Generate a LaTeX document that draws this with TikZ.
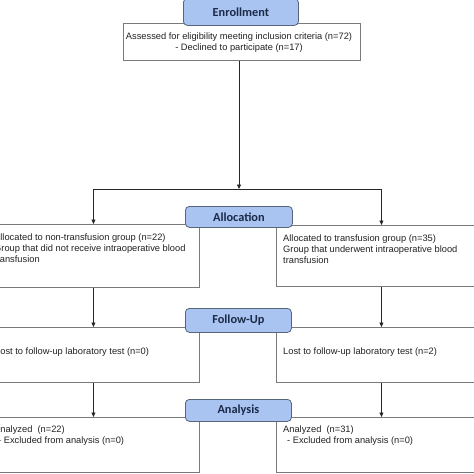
\documentclass[tikz,border=0pt]{standalone}
\usepackage{fontspec}
\setmainfont{Liberation Sans}
\newfontfamily\headfont{Carlito}
\usetikzlibrary{arrows.meta}
\definecolor{hdrfill}{HTML}{A9C4F0}
\definecolor{hdrdraw}{HTML}{56657A}
\definecolor{hdrtext}{HTML}{1B2A48}
\definecolor{boxdraw}{HTML}{7A7A7A}
\definecolor{txtcol}{HTML}{222222}
\begin{document}
\begin{tikzpicture}[x=1pt,y=-1pt,
  box/.style={draw=boxdraw, line width=0.9pt, anchor=north west, inner sep=0pt, fill=white},
  hdr/.style={draw=hdrdraw, fill=hdrfill, line width=0.8pt, rounded corners=4pt,
    inner sep=0pt, text=hdrtext, font=\headfont\bfseries\fontsize{12.3}{14}\selectfont},
  body/.style={inner sep=0pt, text=txtcol, font=\fontsize{9.3}{11}\selectfont},
  arr/.style={draw=black!85, line width=0.8pt, -{Triangle[length=4.5pt,width=4pt]}},
  ln/.style={draw=black!85, line width=0.8pt}]
\useasboundingbox (0,0) rectangle (474,474);
\fill[white] (0,0) rectangle (474,474);

% boxes
\node[box, minimum width=237pt, minimum height=37pt] (enr) at (123,23) {};
\node[box, minimum width=212pt, minimum height=63pt] (la) at (-13,224) {};
\node[box, minimum width=210pt, minimum height=61pt] (ra) at (276,225) {};
\node[box, minimum width=212pt, minimum height=55pt] (lf) at (-13,327) {};
\node[box, minimum width=210pt, minimum height=55pt] (rf) at (276,327) {};
\node[box, minimum width=212pt, minimum height=55pt] (ln) at (-13,417) {};
\node[box, minimum width=210pt, minimum height=55pt] (rn) at (276,417) {};

% texts
\node[body, anchor=north, align=center] (enrt) at (239,33)
  {Assessed for eligibility meeting inclusion criteria (n=72)\\- Declined to participate (n=17)};
\node[body, anchor=north west, align=left] (lat) at (-6,234)
  {Allocated to non-transfusion group (n=22)\\Group that did not receive intraoperative blood\\transfusion};
\node[body, anchor=north west, align=left] (rat) at (283,235)
  {Allocated to transfusion group (n=35)\\Group that underwent intraoperative blood\\transfusion};
\node[body, anchor=north west, align=left] (lft) at (-5,348)
  {Lost to follow-up laboratory test (n=0)};
\node[body, anchor=north west, align=left] (rft) at (283,348)
  {Lost to follow-up laboratory test (n=2)};
\node[body, anchor=north west, align=left] (lnt) at (-6,426)
  {Analyzed\ \ (n=22)\\\hspace{4pt}- Excluded from analysis (n=0)};
\node[body, anchor=north west, align=left] (rnt) at (283,426)
  {Analyzed\ \ (n=31)\\\hspace{4pt}- Excluded from analysis (n=0)};

% connectors
\coordinate (split) at (239,189);
\draw[arr] (enr.south -| split) -- (split);
\draw[ln] (la.north |- split) -- (ra.north |- split);
\draw[arr] (la.north |- split) -- (la.north);
\draw[arr] (ra.north |- split) -- (ra.north);
\draw[arr] (la.south) -- (lf.north);
\draw[arr] (ra.south) -- (rf.north);
\draw[arr] (lf.south) -- (ln.north);
\draw[arr] (rf.south) -- (rn.north);

% headers
\node[hdr, minimum width=115pt, minimum height=27pt, anchor=north west] (henr) at (183,-2) {Enrollment};
\node[hdr, minimum width=107pt, minimum height=21pt, anchor=north west] (hall) at (185,206) {Allocation};
\node[hdr, minimum width=106pt, minimum height=24pt, anchor=north west] (hfol) at (185,308) {Follow-Up};
\node[hdr, minimum width=106pt, minimum height=22pt, anchor=north west] (hana) at (185,399) {Analysis};
\end{tikzpicture}
\end{document}
